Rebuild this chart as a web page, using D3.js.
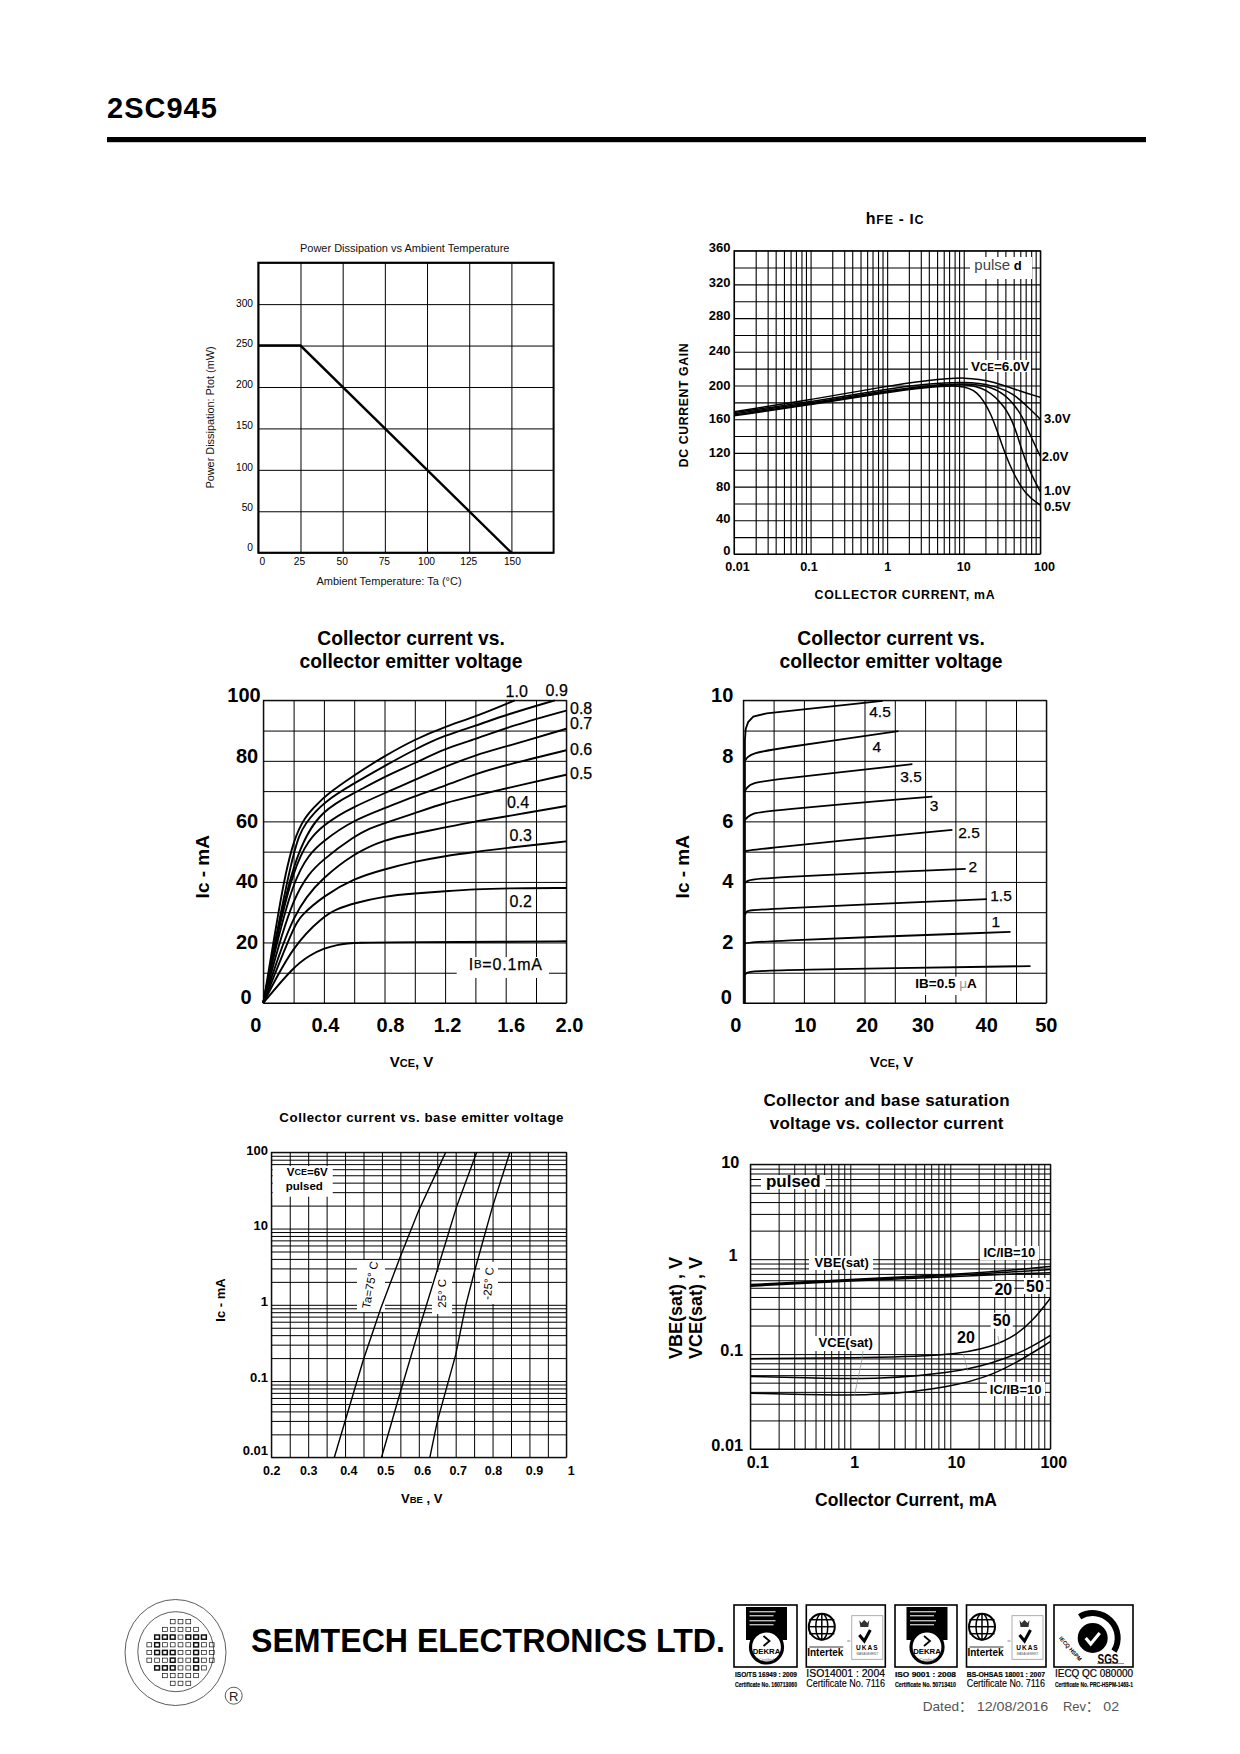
<!DOCTYPE html>
<html><head><meta charset="utf-8">
<script src="https://cdnjs.cloudflare.com/ajax/libs/d3/7.8.5/d3.min.js"></script>
<style>html,body{margin:0;padding:0;background:#fff}svg{display:block}text{font-family:"Liberation Sans","Noto Sans CJK SC",sans-serif}</style>
</head><body><svg id="page" width="1240" height="1754"></svg>
<script>
// ---------- chart data ----------
const powerTemp=[0,25,150], powerMw=[250,250,0];
const powerXTicks=[0,25,50,75,100,125,150], powerYTicks=[0,50,100,150,200,250,300];

const logMinors=[1,1.92,2.75,3.5,4.49,5.48,6.44,7.6,8.7];
const hfe60=[[.01,169],[.1,183],[1,199.4],[3.3,206],[10.8,210.5],[25,204.5],[57,192.6],[100,186]];
const hfe30=[[.01,168],[.1,180.5],[1,196],[3.3,202],[10.8,204.5],[24,200.5],[44,190.7],[65,176.8],[100,160]];
const hfe20=[[.01,166.5],[.1,179],[1,194],[3.3,200],[10.8,203],[24,198.6],[40,184.7],[59,163],[72,143],[100,116]];
const hfe10=[[.01,165],[.1,178],[1,193],[3.3,199],[10,202.5],[20,196.6],[35,174.8],[47,151],[64,107.6],[100,74]];
const hfe05=[[.01,164],[.1,177],[1,192],[3.3,198],[9,200.6],[15,194.6],[23,167],[31,131],[42,99.7],[64,70],[100,58]];

const ib01=[[0,0],[.2,12],[.31,15.9],[.4,18],[.48,19.2],[.6,20],[1,20.1],[1.6,20.2],[2,20.4]];
const ib02=[[0,0],[.2,19.4],[.4,28.7],[.48,31],[.6,33],[.8,35.3],[1,36.2],[1.2,36.9],[1.4,37.6],[1.6,37.9],[2,38]];
const ib03=[[0,0],[.2,25.2],[.25,29],[.4,35.4],[.6,41.2],[.8,44.2],[1,46.7],[1.2,48.6],[1.4,49.9],[1.6,51.2],[2,53.4]];
const ib04=[[0,0],[.2,31],[.4,41.7],[.6,49.4],[.8,54],[1,56],[1.2,58],[1.4,60],[1.6,61.6],[2,65.1]];
const ib05=[[0,0],[.2,38],[.4,47.8],[.6,55],[.7,57.7],[.8,59.4],[1,62.7],[1.2,66.2],[1.4,68.5],[1.6,70.9],[2,75.4]];
const ib06=[[0,0],[.2,44.5],[.4,53.9],[.6,60.5],[.8,64.3],[1,68.4],[1.2,71.7],[1.4,75.7],[1.6,78.6],[2,83.5]];
const ib07=[[0,0],[.2,48.9],[.4,59.4],[.6,64.9],[.8,69.3],[1,73.7],[1.2,78.1],[1.4,81.9],[1.6,84.7],[2,90.6]];
const ib08=[[0,0],[.2,50.5],[.4,64.3],[.6,69.3],[.8,74.8],[1,79.2],[1.2,84.1],[1.4,87.1],[1.6,91],[2,96.6]];
const ib09=[[0,0],[.2,52.2],[.275,59.4],[.4,66.5],[.6,72.6],[.8,78.3],[1,83.8],[1.2,88.5],[1.4,91.5],[1.6,95.2],[1.925,100]];
const ib10=[[0,0],[.11,33],[.143,41.7],[.2,53.9],[.275,61.6],[.352,65.4],[.4,68.2],[.6,75.3],[.8,81.6],[1,87.1],[1.2,91.3],[1.4,94.6],[1.66,100]];

const ua05=[[.27,.93],[.5,1],[1.1,1.03],[4.4,1.09],[47.4,1.22]];
const ua10=[[.27,1.95],[.6,2.03],[44.1,2.35]];
const ua15=[[.27,2.91],[.5,3.03],[1.1,3.09],[40.2,3.43]];
const ua20=[[.27,3.95],[.6,4.03],[1.9,4.14],[36.7,4.43]];
const ua25=[[.27,5],[.7,5.06],[34.5,5.72]];
const ua30=[[.27,6.05],[.7,6.15],[1.65,6.27],[3.85,6.35],[31.2,6.82]];
const ua35=[[.27,7],[.6,7.12],[1.4,7.26],[4.4,7.37],[27.9,7.89]];
const ua40=[[.27,8],[.7,8.13],[1.65,8.25],[4.95,8.39],[25.6,8.98]];
const ua45=[[.27,0],[.27,8.7],[.4,9.05],[.8,9.28],[1.65,9.46],[3.85,9.57],[23,9.98]];

const vbe75=[[.371,.01],[.397,.0265],[.4495,.189],[.497,.9],[.5516,4.5],[.5986,16.7],[.65,57.5],[.673,100]];
const vbe25=[[.499,.01],[.549,.0692],[.5986,.445],[.65,2.86],[.7026,19.4],[.757,100]];
const vbeM25=[[.63,.01],[.65,.0294],[.7,.22],[.727,.967],[.752,2.86],[.8,19.4],[.847,100]];
const vbeXTicks=[.2,.3,.4,.5,.6,.7,.8,.9,1];

const vbeSat10=[[.1,.54],[1,.61],[10,.69],[40,.76],[100,.84]];
const vbeSat20=[[.1,.53],[1,.6],[10,.67],[40,.73],[100,.78]];
const vbeSat50=[[.1,.52],[1,.59],[10,.655],[40,.7],[100,.72]];
const vceSat50=[[.1,.0896],[1,.0909],[10,.0953],[26.9,.12],[46,.159],[68,.229],[100,.387]];
const vceSat20=[[.1,.058],[.6,.0555],[1.83,.0543],[10,.0628],[26.9,.08],[58,.11],[100,.157]];
const vceSat10=[[.1,.0386],[.6,.0372],[1.83,.0365],[10,.0447],[26.9,.06],[58,.094],[100,.135]];
const leaderVce=[[1.1,.0365],[1.3,.085]], leaderVce2=[[1.3,.085],[1.35,.115]], leader20=[[15,.066],[13.5,.1]], leader50=[[31,.125],[30,.155]];

// logo and certificates
const logoRowCounts=[3,5,7,9,9,9,7,5,3];
const logoBold={2:[-3,-2,-1,1,2,3],3:[-3,2],4:[-3,-2,-1,2],5:[-1,2],6:[-3,-2,-1,2]};
const certLine1=["ISO/TS 16949 : 2009","ISO14001 : 2004","ISO 9001 : 2008","BS-OHSAS 18001 : 2007","IECQ QC 080000"];
const certLine2=["Certificate No. 160713060","Certificate No. 7116","Certificate No. 50713410","Certificate No. 7116","Certificate No. PRC-HSPM-1463-1"];

// ---------- helpers ----------
const svg=d3.select('#page');
function txt(x,y,parts,o={}){
  const size=o.size||12, tf=o.rot!=null?`rotate(${o.rot},${x},${y})`:null;
  if(o.box) svg.append('rect').attr('x',o.box[0]).attr('y',o.box[1]).attr('width',o.box[2]-o.box[0]).attr('height',o.box[3]-o.box[1]).attr('fill','#fff');
  const t=svg.append('text').attr('x',x).attr('y',y).attr('text-anchor',o.anchor||'middle')
    .attr('font-size',size).attr('font-weight',o.weight||'normal').attr('fill',o.fill||'#000').attr('transform',tf);
  if(o.mid) t.attr('dominant-baseline','central');
  if(o.spacing) t.attr('letter-spacing',o.spacing);
  if(o.stroke) t.attr('stroke',o.fill||'#000').attr('stroke-width',o.stroke);
  if(o.len) t.attr('textLength',o.len).attr('lengthAdjust','spacingAndGlyphs');
  if(typeof parts==='string') t.text(parts);
  else parts.forEach(p=>t.append('tspan').attr('font-size',p[1]).attr('font-weight',p[2]||null).attr('fill',p[3]||null).text(p[0]));
  return t;
}
function grid(xs,ys,xVals,yVals,sw=1,fw=1){
  const b=ys.range()[0],t=ys.range()[1],l=xs.range()[0],r=xs.range()[1];
  const g=svg.append('g').attr('stroke-width',sw);
  g.append('g').attr('transform',`translate(0,${b})`).call(d3.axisBottom(xs).tickValues(xVals).tickSize(-(b-t)).tickFormat('')).call(s=>s.select('.domain').remove());
  g.append('g').attr('transform',`translate(${l},0)`).call(d3.axisLeft(ys).tickValues(yVals).tickSize(-(r-l)).tickFormat('')).call(s=>s.select('.domain').remove());
  g.selectAll('line').attr('stroke','#000').attr('stroke-width',sw);
  svg.append('rect').attr('x',l).attr('y',t).attr('width',r-l).attr('height',b-t).attr('fill','none').attr('stroke','#000').attr('stroke-width',fw);
}
function xLabels(xs,baseline,vals,fmt,size,dxs=[],weight='bold'){
  const g=svg.append('g').attr('transform',`translate(0,${baseline})`).call(d3.axisBottom(xs).tickValues(vals).tickSize(0).tickFormat(fmt));
  g.select('.domain').remove();g.selectAll('line').remove();
  g.attr('font-family',null).attr('font-size',size).attr('font-weight',weight);
  g.selectAll('text').attr('y',0).attr('dy',0).attr('x',(d,i)=>dxs[i]||0);
}
function yLabels(ys,right,vals,fmt,size,dys=[],weight='bold',dxs=[]){
  const g=svg.append('g').attr('transform',`translate(${right},0)`).call(d3.axisLeft(ys).tickValues(vals).tickSize(0).tickPadding(0).tickFormat(fmt));
  g.select('.domain').remove();g.selectAll('line').remove();
  g.attr('font-family',null).attr('font-size',size).attr('font-weight',weight);
  g.selectAll('text').attr('y',(d,i)=>dys[i]||0).attr('x',(d,i)=>dxs[i]||0);
}
function curves(xs,ys,list,sw,curve=d3.curveBasis){
  const line=d3.line().x(d=>xs(d[0])).y(d=>ys(d[1])).curve(curve);
  svg.append('g').selectAll('path').data(list).join('path').attr('d',line).attr('fill','none').attr('stroke','#000').attr('stroke-width',sw);
}
const logVals=(lo,hi,m)=>{const a=[];for(let e=lo;e<hi;e++)m.forEach(k=>a.push(k*10**e));a.push(10**hi);return a;};
const stdLog=[1,2,3,4,5,6,7,8,9];
const fmtPlain=d=>String(d);

// ---------- header ----------
txt(107,117.5,'2SC945',{anchor:'start',size:29,weight:'bold',spacing:1});
svg.append('rect').attr('x',107).attr('y',137).attr('width',1039).attr('height',5.2).attr('fill','#000');

// ---------- 1. power dissipation ----------
{
  const x=d3.scaleLinear().domain([0,175]).range([258.3,553.6]);
  const y=d3.scaleLinear().domain([0,350]).range([552.7,262.7]);
  grid(x,y,powerXTicks,[...powerYTicks,350],1,2);
  curves(x,y,[d3.zip(powerTemp,powerMw)],2.4,d3.curveLinear);
  txt(404.7,251.7,'Power Dissipation vs Ambient Temperature',{size:11,fill:'#111'});
  xLabels(x,565,powerXTicks,fmtPlain,10.2,[3.5,-1.5,-1,-1,-1,-1,0.5],'normal');
  yLabels(y,253,powerYTicks,fmtPlain,10.2,[-5,-4,-3,-3,-3,-2,-1],'normal');
  txt(389,585,'Ambient Temperature: Ta (°C)',{size:11,fill:'#111'});
  txt(214,417.5,'Power Dissipation: Ptot (mW)',{size:10.9,rot:-90,fill:'#111'});
}
// ---------- 2. hFE - Ic ----------
{
  const x=d3.scaleLog().domain([.01,100]).range([734,1040.3]);
  const y=d3.scaleLinear().domain([0,360]).range([554,250.7]);
  grid(x,y,logVals(-2,2,logMinors),d3.range(0,361,20),1.1,1.1);
  curves(x,y,[hfe60,hfe30,hfe20,hfe10,hfe05],1.5);
  txt(895,224,[['h',16],['FE',12.5],[' - I',15],['C',12.5]],{weight:'bold',spacing:.8});
  xLabels(x,571,[.01,.1,1,10,100],fmtPlain,12.6,[3,-2,0,-.5,3.7]);
  yLabels(y,730.5,d3.range(0,361,40),fmtPlain,13,[-4,-2,0,-1,-1,0,-1.7,-3,-2,-3]);
  txt(905,599,'COLLECTOR CURRENT, mA',{size:12.3,weight:'bold',spacing:.75});
  txt(688,405,'DC CURRENT GAIN',{size:12.3,weight:'bold',rot:-90,spacing:.6});
  txt(974.3,270,[['pulse',15,'normal','#444'],[' d',13,'bold']],{anchor:'start',box:[970,257,1032,279]});
  txt(971,371,[['V',13.5],['CE',10],['=6.0V',13.5]],{anchor:'start',weight:'bold',box:[968,360,1031,372]});
  [['3.0V',1044,423],['2.0V',1041.7,461],['1.0V',1044,495],['0.5V',1044,510.5]].forEach(d=>txt(d[1],d[2],d[0],{anchor:'start',size:13,weight:'bold'}));
}
// ---------- 3. Ic - Vce (mA) ----------
function icTitle(cx){
  txt(cx,645,'Collector current vs.',{size:19.3,weight:'bold'});
  txt(cx,667.7,'collector emitter voltage',{size:19.3,weight:'bold'});
  txt(cx+.5,1066.7,[['V',15],['CE',11],[', V',15]],{weight:'bold'});
}
{
  const x=d3.scaleLinear().domain([0,2]).range([263.3,566.3]);
  const y=d3.scaleLinear().domain([0,100]).range([1003,700.3]);
  grid(x,y,d3.range(0,2.01,.2),d3.range(0,101,10));
  curves(x,y,[ib01,ib02,ib03,ib04,ib05,ib06,ib07,ib08,ib09,ib10],1.9);
  icTitle(411);
  xLabels(x,1031.7,[0,.4,.8,1.2,1.6,2],d=>d===0?'0':d.toFixed(1),20,[-8,1,5.5,2,5,2.7]);
  yLabels(y,260.7,[0,20,40,60,80,100],fmtPlain,20,[-6,0,-.6,0,-4.6,-5],'bold',[-9,-2.5,-2.5,-2.5,-2.5,0]);
  txt(209.5,866.7,'Ic - mA',{size:19,weight:'bold',rot:-90});
  const L={size:16,stroke:.25,mid:true};
  [['1.0',516.7,691.7],['0.9',556.7,690],['0.4',518,802.7],['0.3',520.7,835],['0.2',520.7,901.7]].forEach(d=>txt(d[1],d[2],d[0],L));
  [['0.8',570,708],['0.7',570,723],['0.6',570,749],['0.5',570,773]].forEach(d=>txt(d[1],d[2],d[0],{...L,anchor:'start'}));
  txt(505.7,964,[['I',16],['B',11.5],['=0.1mA',16]],{...L,spacing:.8,box:[456.7,957,549,978]});
}
// ---------- 4. Ic - Vce (uA) ----------
{
  const x=d3.scaleLinear().domain([0,50]).range([743.3,1046.3]);
  const y=d3.scaleLinear().domain([0,10]).range([1003,700.3]);
  grid(x,y,d3.range(0,51,5),d3.range(0,11,1));
  curves(x,y,[ua05,ua10,ua15,ua20,ua25,ua30,ua35,ua40],1.8);
  curves(x,y,[ua45],1.8,d3.curveLinear);
  icTitle(891);
  xLabels(x,1031.7,[0,10,20,30,40,50],fmtPlain,20,[-8,1,2,-2.5,.5,-.5]);
  yLabels(y,733.3,[0,2,4,6,8,10],fmtPlain,20,[-6,0,-.6,0,-4.6,-5],'bold',[-1.5]);
  txt(689.5,866.7,'Ic - mA',{size:19,weight:'bold',rot:-90});
  const L={size:15.5,stroke:.25,mid:true};
  [['4.5',880,711],['4',876.7,746.7],['3.5',911,776],['3',934,805.7],['2.5',969,832.3],['2',972.7,866],['1.5',1001,895.3],['1',995.7,921.7]].forEach(d=>txt(d[1],d[2],d[0],L));
  txt(946,983.3,[['IB=0.5 ',13.5,'bold'],['μ',13.5,'normal','#999'],['A',13.5,'bold']],{mid:true,box:[910,976.7,981.7,995]});
}
// ---------- 5. Ic - Vbe ----------
{
  const x=d3.scaleLinear().domain([.2,1]).range([271.3,566.3]);
  const y=d3.scaleLog().domain([.01,100]).range([1457.3,1152.3]);
  grid(x,y,d3.range(4,21).map(k=>k*.05),logVals(-2,2,stdLog));
  svg.append('rect').attr('x',357).attr('y',1260).attr('width',28).attr('height',52).attr('fill','#fff');
  svg.append('rect').attr('x',432).attr('y',1272).attr('width',20).attr('height',42).attr('fill','#fff');
  svg.append('rect').attr('x',480).attr('y',1262).attr('width',18).attr('height',42).attr('fill','#fff');
  curves(x,y,[vbe75,vbe25,vbeM25],1.4,d3.curveLinear);
  txt(421.7,1121.7,'Collector current vs. base emitter voltage',{size:13.3,weight:'bold',spacing:.55});
  xLabels(x,1475,vbeXTicks,fmtPlain,12.5,[0,0,3.3,3.3,3.3,2,.5,4.5,4.5]);
  yLabels(y,268,[.01,.1,1,10,100],fmtPlain,13,[-7,-4,-3,-3,-2]);
  txt(421.7,1502.7,[['V',13],['BE',9.5],[' , V',13]],{weight:'bold'});
  txt(225,1300,'Ic - mA',{size:13,weight:'bold',rot:-90});
  txt(307.3,1171.7,[['V',11.5],['CE',9],['=6V',11.5]],{weight:'bold',mid:true,box:[272.7,1166,332.7,1196.7]});
  txt(304.3,1186,'pulsed',{size:11.5,weight:'bold',mid:true});
  txt(370,1285,'Ta=75° C',{size:11.5,rot:-80,mid:true});
  txt(441.7,1293.3,'25° C',{size:11.5,rot:-90,mid:true});
  txt(488.3,1283.3,'-25° C',{size:11.5,rot:-85,mid:true});
}
// ---------- 6. saturation ----------
{
  const x=d3.scaleLog().domain([.1,100]).range([750.3,1050.3]);
  const y=d3.scaleLog().domain([.01,10]).range([1449,1164.3]);
  grid(x,y,logVals(-1,2,logMinors),logVals(-2,1,stdLog));
  curves(x,y,[vbeSat10,vbeSat20,vbeSat50],1.5);
  curves(x,y,[vceSat50,vceSat20,vceSat10],1.5);
  svg.append('g').selectAll('path').data([leaderVce,leaderVce2,leader20,leader50]).join('path')
    .attr('d',d3.line().x(d=>x(d[0])).y(d=>y(d[1]))).attr('fill','none').attr('stroke','#888').attr('stroke-width',.7);
  txt(886.7,1106,'Collector and base saturation',{size:17,weight:'bold',spacing:.25});
  txt(886.7,1129,'voltage vs. collector current',{size:17,weight:'bold',spacing:.25});
  xLabels(x,1468,[.1,1,10,100],fmtPlain,16,[7,4,5.7,3]);
  yLabels(y,743,[.01,.1,1,10],fmtPlain,16.3,[-4,-4,-3.6,-1.6],'bold',[0,0,-5.5,-3.7]);
  txt(906,1505.7,'Collector Current, mA',{size:17.5,weight:'bold'});
  txt(682,1308,'VBE(sat) , V',{size:18,weight:'bold',rot:-90});
  txt(701.5,1308,'VCE(sat) , V',{size:18,weight:'bold',rot:-90});
  txt(793.3,1181.7,'pulsed',{size:17,weight:'bold',mid:true,box:[761,1175,825.7,1189]});
  txt(841.7,1262.3,'VBE(sat)',{size:13,weight:'bold',mid:true,box:[809,1256,873,1270]});
  txt(845.7,1342.7,'VCE(sat)',{size:13,weight:'bold',mid:true,box:[814,1336,877,1351]});
  txt(1009.3,1252.7,'IC/IB=10',{size:13,weight:'bold',mid:true,box:[980,1246,1039,1260]});
  txt(1015.7,1389,'IC/IB=10',{size:13,weight:'bold',mid:true,box:[987,1382,1045,1396]});
  [['20',1003.3,1289],['50',1035,1286],['50',1001.7,1320.7],['20',966,1337.3]].forEach(d=>txt(d[1],d[2],d[0],{size:16,weight:'bold',mid:true,box:[d[1]-11,d[2]-8,d[1]+11,d[2]+8]}));
}
// ---------- footer: logo ----------
{
  const g=svg.append('g').attr('fill','none').attr('stroke','#333');
  g.append('ellipse').attr('cx',175.5).attr('cy',1652.5).attr('rx',50.5).attr('ry',53).attr('stroke-width',.8);
  g.append('ellipse').attr('cx',175.8).attr('cy',1651.7).attr('rx',38).attr('ry',40).attr('stroke-width',.8);
  const rowY=d3.scaleLinear().domain([0,8]).range([1621.7,1683.3]);
  const colX=d3.scaleLinear().domain([-4,4]).range([149.3,211.7]);
  logoRowCounts.forEach((n,r)=>{
    d3.range(-(n-1)/2,(n-1)/2+1).forEach(c=>{
      const b=(logoBold[r]||[]).includes(c);
      g.append('rect').attr('x',colX(c)-2.4).attr('y',rowY(r)-2.1).attr('width',4.8).attr('height',4.2).attr('stroke','#111').attr('stroke-width',b?1.5:.7);
    });
  });
  txt(251,1652.4,'SEMTECH ELECTRONICS LTD.',{anchor:'start',size:32.5,weight:'bold',len:474});
  g.append('circle').attr('cx',233.7).attr('cy',1695.7).attr('r',8.5).attr('stroke-width',.8);
  txt(233.7,1700.5,'R',{size:13,fill:'#222'});
}
// ---------- footer: certificates ----------
function frame(x,w,sw=1.6){svg.append('rect').attr('x',x).attr('y',1605).attr('width',w).attr('height',62).attr('fill','none').attr('stroke','#000').attr('stroke-width',sw);}
function dekra(x,w){
  frame(x,w);
  const cx=x+w/2+1;
  svg.append('rect').attr('x',cx-20.5).attr('y',1607).attr('width',41).attr('height',33).attr('fill','#000');
  [[1611,.85,26],[1615,.6,24],[1620,.6,26],[1624,.5,24]].forEach(d=>svg.append('rect').attr('x',cx-17).attr('y',d[0]).attr('width',d[2]).attr('height',1.4).attr('fill','#bbb'));
  svg.append('circle').attr('cx',cx).attr('cy',1647).attr('r',16).attr('fill','#fff').attr('stroke','#000').attr('stroke-width',3.2);
  svg.append('path').attr('d',`M${cx-3} ${1636}L${cx+3} ${1641}L${cx-3} ${1646}`).attr('fill','none').attr('stroke','#000').attr('stroke-width',1.8);
  txt(cx,1654,'DEKRA',{size:7.8,weight:'bold'});
  txt(cx,1660.5,'Certified',{size:4,fill:'#555'});
}
function intertek(x,w){
  frame(x,w);
  const cx=x+15.5,cy=1626.7,r=13;
  const g=svg.append('g').attr('fill','none').attr('stroke','#000').attr('stroke-width',1.5);
  g.append('circle').attr('cx',cx).attr('cy',cy).attr('r',r).attr('stroke-width',2);
  g.append('ellipse').attr('cx',cx).attr('cy',cy).attr('rx',6).attr('ry',r);
  [-7,0,7].forEach(d=>g.append('line').attr('x1',cx-r+.5).attr('x2',cx+r-.5).attr('y1',cy+d).attr('y2',cy+d));
  g.append('line').attr('x1',cx).attr('x2',cx).attr('y1',cy-r).attr('y2',cy+r);
  g.append('line').attr('x1',x+3).attr('x2',x+37).attr('y1',1647).attr('y2',1647).attr('stroke-width',.8);
  txt(x+19,1656,'Intertek',{size:10,weight:'bold'});
  svg.append('rect').attr('x',x+45.5).attr('y',1615.7).attr('width',31).attr('height',43.6).attr('fill','#fff').attr('stroke','#999').attr('stroke-width',.8);
  svg.append('path').attr('d',`M${x+53} ${1620}l2 3l3 -3l3 3l2 -3l-1 7h-8z`).attr('fill','#333');
  svg.append('path').attr('d',`M${x+53} ${1635}l5 6l6 -11`).attr('fill','none').attr('stroke','#000').attr('stroke-width',3);
  txt(x+61,1650,'UKAS',{size:6.5,weight:'bold',spacing:1});
  txt(x+61,1655,'MANAGEMENT',{size:3,fill:'#555'});
  svg.append('line').attr('x1',x+41).attr('x2',x+44).attr('y1',1641).attr('y2',1641).attr('stroke','#666').attr('stroke-width',.8);
}
dekra(734,63);intertek(806.3,79);dekra(895,62);intertek(966.5,79.5);
{
  frame(1054,79);
  const cx=1092.7,cy=1638;
  const arc=d3.arc().innerRadius(22).outerRadius(28).startAngle(-.55).endAngle(Math.PI/2+.55);
  svg.append('path').attr('transform',`translate(${cx},${cy})`).attr('d',arc()).attr('fill','#000');
  svg.append('circle').attr('cx',cx).attr('cy',cy).attr('r',15).attr('fill','#000');
  svg.append('path').attr('d',`M${cx-7} ${cy}l5 6l9 -11`).attr('fill','none').attr('stroke','#fff').attr('stroke-width',3.2);
  txt(1069,1650,'IECQ HSPM',{size:5.5,weight:'bold',rot:48});
  txt(1108,1664,'SGS',{size:14,weight:'bold',len:21});
  svg.append('line').attr('x1',1097).attr('x2',1124).attr('y1',1663.5).attr('y2',1663.5).attr('stroke','#666').attr('stroke-width',.7);
}
const certX=[735,806.3,895,966.7,1055], certW=[62,78.7,61,78.3,78], cert1Size=[8,10.5,8,8,10], cert2Size=[6.5,10.5,6.5,10.5,6.5];
certLine1.forEach((t,i)=>txt(certX[i],1676.7,t,{anchor:'start',size:cert1Size[i],weight:i===1||i===4?'normal':'bold',len:certW[i],stroke:.2}));
certLine2.forEach((t,i)=>txt(certX[i],1687,t,{anchor:'start',size:cert2Size[i],weight:i===1||i===3?'normal':'bold',len:certW[i],stroke:.15}));
[['Dated：',922.7,50],['12/08/2016',976.7,71.6],['Rev：',1063,36],['02',1103.3,15.7]].forEach(d=>txt(d[1],1711,d[0],{anchor:'start',size:13.5,fill:'#555',len:d[2]}));
</script></body></html>
